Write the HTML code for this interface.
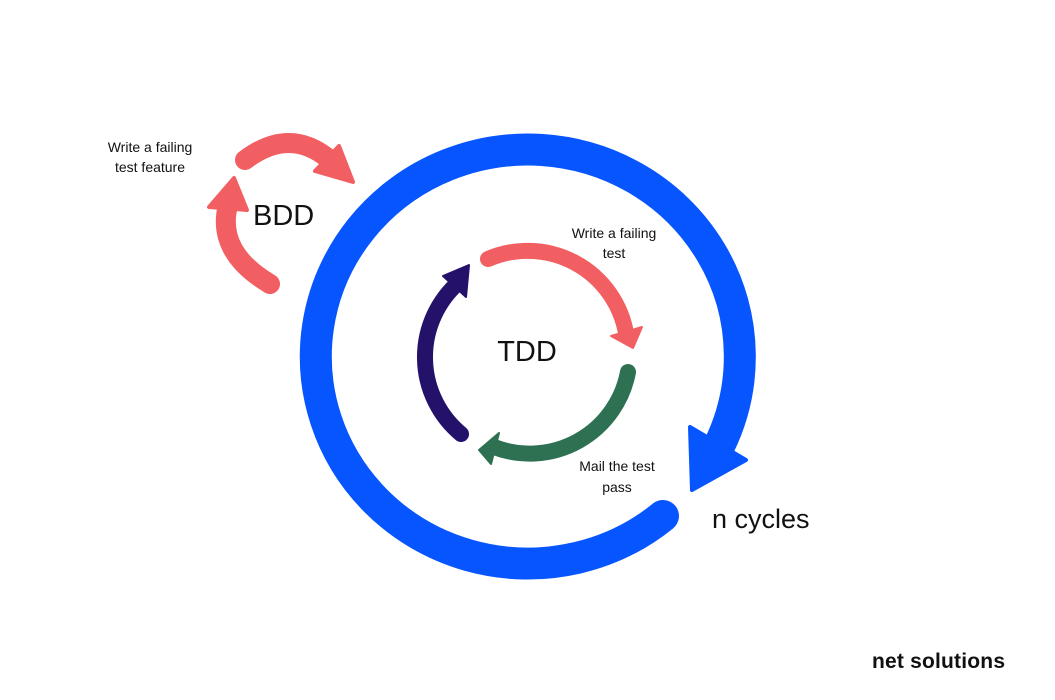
<!DOCTYPE html>
<html><head><meta charset="utf-8"><style>
html,body{margin:0;padding:0;background:#fff;}
svg{display:block;}
text{font-family:"Liberation Sans",sans-serif;fill:#111;}
</style></head><body>
<svg width="1055" height="700" viewBox="0 0 1055 700">
<!-- Big blue cycle -->
<path d="M 663 516 A 212 207 0 1 1 719 446" fill="none" stroke="#0655FF" stroke-width="32" stroke-linecap="round"/>
<polygon points="746,460 690,427 692,490" fill="#0655FF" stroke="#0655FF" stroke-width="4" stroke-linejoin="round"/>

<!-- BDD arcs -->
<path d="M 245 160 Q 290 126 330 160" fill="none" stroke="#F25F62" stroke-width="20" stroke-linecap="round"/>
<polygon points="339,146 353,182 315,171" fill="#F25F62" stroke="#F25F62" stroke-width="4" stroke-linejoin="round"/>
<path d="M 270 284 Q 216 252 228 205" fill="none" stroke="#F25F62" stroke-width="20" stroke-linecap="round"/>
<polygon points="234,178 209,207 247,210" fill="#F25F62" stroke="#F25F62" stroke-width="4" stroke-linejoin="round"/>

<!-- TDD arcs -->
<path d="M 488 259 A 100 100 0 0 1 626 333" fill="none" stroke="#F25F62" stroke-width="16" stroke-linecap="round"/>
<polygon points="642,327 611,336 633,348" fill="#F25F62" stroke="#F25F62" stroke-width="2" stroke-linejoin="round"/>
<path d="M 628 372 A 100 100 0 0 1 494 447" fill="none" stroke="#2E7152" stroke-width="16" stroke-linecap="round"/>
<polygon points="491,464 499,433 479,450" fill="#2E7152" stroke="#2E7152" stroke-width="2" stroke-linejoin="round"/>
<path d="M 461 434 A 100 100 0 0 1 459 282" fill="none" stroke="#24116A" stroke-width="16" stroke-linecap="round"/>
<polygon points="443,276 466,297 469,265" fill="#24116A" stroke="#24116A" stroke-width="2" stroke-linejoin="round"/>

<!-- labels -->
<text x="150" y="152" font-size="14" text-anchor="middle">Write a failing</text>
<text x="150" y="172" font-size="14" text-anchor="middle">test feature</text>
<text x="253" y="225" font-size="29">BDD</text>
<text x="527" y="361" font-size="29" text-anchor="middle">TDD</text>
<text x="614" y="238" font-size="14" text-anchor="middle">Write a failing</text>
<text x="614" y="258" font-size="14" text-anchor="middle">test</text>
<text x="617" y="471" font-size="14" text-anchor="middle">Mail the test</text>
<text x="617" y="492" font-size="14" text-anchor="middle">pass</text>
<text x="712" y="528" font-size="27">n cycles</text>
<text x="872" y="668" font-size="21" font-weight="bold" textLength="133">net solutions</text>
</svg>
</body></html>
